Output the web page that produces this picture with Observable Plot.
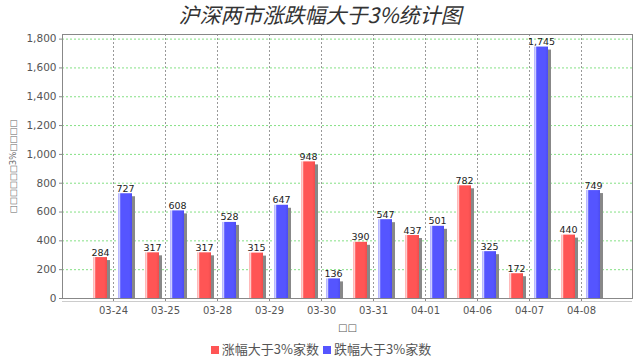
<!DOCTYPE html>
<html>
<head>
<meta charset="utf-8">
<script src="https://cdn.jsdelivr.net/npm/d3@7"></script>
<script src="https://cdn.jsdelivr.net/npm/@observablehq/plot@0.6"></script>
<style>
  html, body { margin: 0; padding: 0; background: #fff; width: 640px; height: 360px; overflow: hidden; }
  #title { height: 28px; line-height: 28px; text-align: center; font-family: "Noto Sans CJK SC", sans-serif; font-style: italic; font-size: 21px; color: #333; }
  #chart svg { display: block; }
  #legend { height: 22px; line-height: 22px; text-align: center; font-family: "Noto Sans CJK SC", sans-serif; font-size: 13px; color: #555; padding-left: 2px; }
  #legend .sw { display: inline-block; width: 8px; height: 8px; margin-right: 3px; vertical-align: 0px; }
</style>
</head>
<body>
<div id="title">沪深两市涨跌幅大于3%统计图</div>
<div id="chart"></div>
<div id="legend"></div>
<script>
const categories = ["03-24","03-25","03-28","03-29","03-30","03-31","04-01","04-06","04-07","04-08"];
const upCounts   = [284, 317, 317, 315, 948, 390, 437, 782, 172, 440];
const downCounts = [727, 608, 528, 647, 136, 547, 501, 325, 1745, 749];
const yTicks = [0, 200, 400, 600, 800, 1000, 1200, 1400, 1600, 1800];
const seriesNames = ["涨幅大于3%家数", "跌幅大于3%家数"];
const seriesColors = ["#ff5555", "#5555ff"];
const yLabel = "□□□□□□3%□□□□";
const xLabel = "□□";

const rows = categories.map((c, i) => ({date: c, up: upCounts[i], down: downCounts[i]}));
const fmt = d3.format(",");

const svg = Plot.plot({
  width: 640,
  height: 310,
  marginTop: 6,
  marginLeft: 62,
  marginRight: 8,
  marginBottom: 40,
  style: {fontFamily: "'DejaVu Sans', sans-serif", fontSize: "10px", color: "#555", background: "#fff", overflow: "visible"},
  x: {domain: categories, paddingInner: 0, paddingOuter: 0.44},
  y: {domain: [0, 1832]},
  marks: [
    Plot.gridY(yTicks, {stroke: "#77dd77", strokeOpacity: 0.9, strokeDasharray: "2,2"}),
    Plot.gridX(categories, {stroke: "#999", strokeOpacity: 1, strokeDasharray: "2,2"}),
    Plot.barY(rows, {x: "date", y: "up", fill: "#888", insetLeft: 9, insetRight: 29, insetTop: 3}),
    Plot.barY(rows, {x: "date", y: "down", fill: "#888", insetLeft: 34, insetRight: 4, insetTop: 3}),
    Plot.barY(rows, {x: "date", y: "up", fill: "url(#gradRed)", insetLeft: 6, insetRight: 32}),
    Plot.barY(rows, {x: "date", y: "down", fill: "url(#gradBlue)", insetLeft: 31, insetRight: 7}),
    Plot.text(rows, {x: "date", y: "up", text: d => fmt(d.up), dx: -13, dy: -2, lineAnchor: "bottom", fill: "#222", fontSize: 9.5}),
    Plot.text(rows, {x: "date", y: "down", text: d => fmt(d.down), dx: 12, dy: -2, lineAnchor: "bottom", fill: "#222", fontSize: 9.5}),
    Plot.ruleY([0], {dy: 3, stroke: "#ccc"}),
    Plot.frame({stroke: "#888"}),
    Plot.axisY(yTicks, {tickFormat: fmt, tickSize: 3, tickPadding: 3, stroke: "#888", label: null, fontSize: 10.5}),
    Plot.text([yLabel], {frameAnchor: "left", textAnchor: "middle", rotate: -90, dx: -49, fontSize: 8.5, fill: "#666"}),
    Plot.axisX({tickSize: 3, tickPadding: 5, stroke: "#888", label: xLabel, labelArrow: "none", labelAnchor: "center", labelOffset: 32})
  ]
});

const defs = d3.select(svg).insert("defs", ":first-child");
function grad(id, edge, base, dark) {
  const g = defs.append("linearGradient").attr("id", id).attr("x1", "0").attr("x2", "1").attr("y1", "0").attr("y2", "0");
  g.append("stop").attr("offset", "0").attr("stop-color", edge);
  g.append("stop").attr("offset", "0.07").attr("stop-color", "#ffffff");
  g.append("stop").attr("offset", "0.2").attr("stop-color", base);
  g.append("stop").attr("offset", "0.8").attr("stop-color", base);
  g.append("stop").attr("offset", "1").attr("stop-color", dark);
}
grad("gradRed", "#ff7070", "#ff5555", "#f04c4c");
grad("gradBlue", "#7070ff", "#5555ff", "#4c4cf0");

document.getElementById("chart").appendChild(svg);

const legend = d3.select("#legend");
seriesNames.forEach((name, i) => {
  const item = legend.append("span").style("margin", "0 2px");
  item.append("span").attr("class", "sw").style("background", seriesColors[i]);
  item.append("span").text(name);
});
</script>
</body>
</html>
